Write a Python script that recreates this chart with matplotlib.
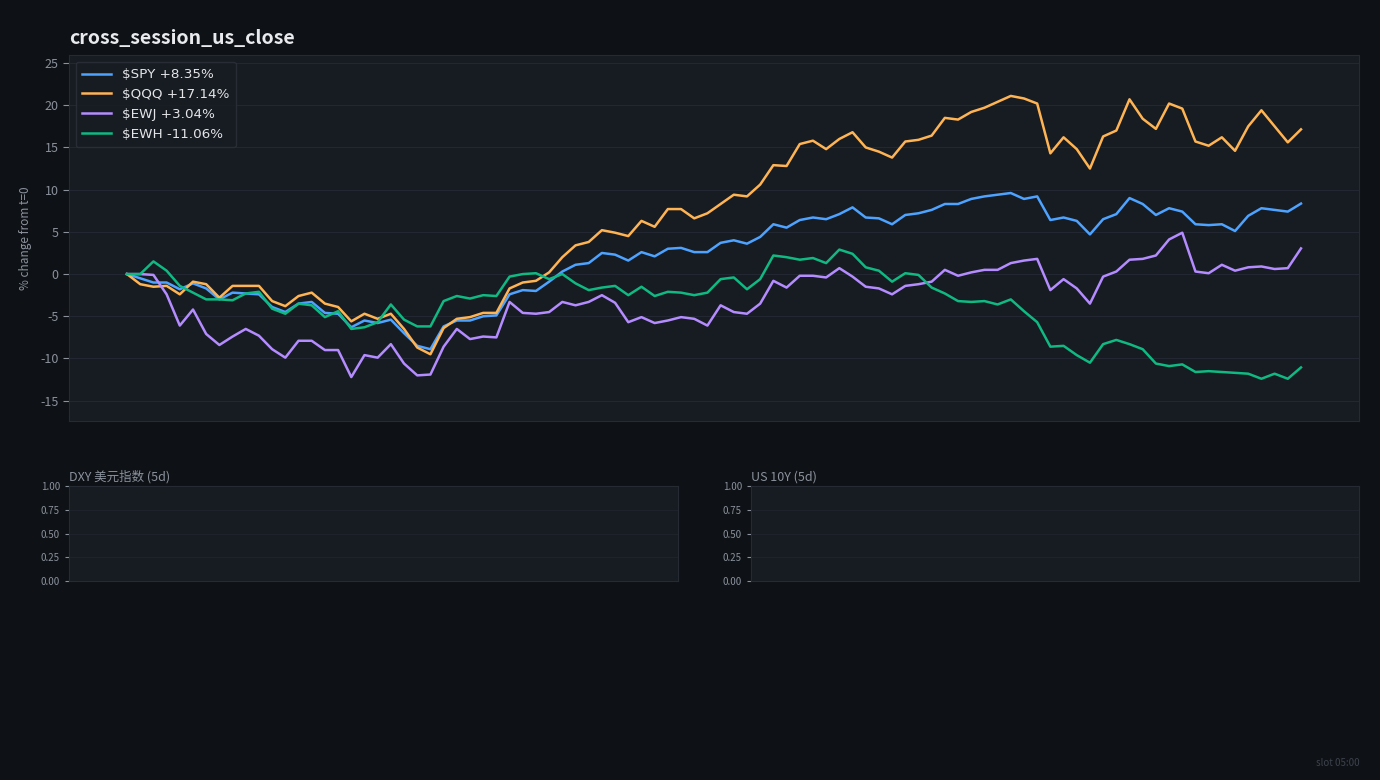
import numpy as np
import matplotlib.pyplot as plt

# % change from t=0 (90 samples)
spy = [0, -0.5, -1.0, -1.0, -1.8, -1.1, -1.7, -3.0, -2.2, -2.3,
       -2.4, -3.9, -4.5, -3.5, -3.3, -4.6, -4.7, -6.3, -5.5, -5.8,
       -5.4, -7.0, -8.5, -8.9, -6.2, -5.5, -5.5, -5.0, -4.9, -2.4,
       -1.9, -2.0, -0.9, 0.3, 1.1, 1.3, 2.5, 2.3, 1.6, 2.6,
       2.1, 3.0, 3.1, 2.6, 2.6, 3.7, 4.0, 3.6, 4.4, 5.9,
       5.5, 6.4, 6.7, 6.5, 7.1, 7.9, 6.7, 6.6, 5.9, 7.0,
       7.2, 7.6, 8.3, 8.3, 8.9, 9.2, 9.4, 9.6, 8.9, 9.2,
       6.4, 6.7, 6.3, 4.7, 6.5, 7.1, 9.0, 8.3, 7.0, 7.8,
       7.4, 5.9, 5.8, 5.9, 5.1, 6.9, 7.8, 7.6, 7.4, 8.35]
qqq = [0, -1.2, -1.5, -1.4, -2.4, -0.9, -1.2, -2.8, -1.4, -1.4,
       -1.4, -3.2, -3.8, -2.6, -2.2, -3.5, -3.9, -5.6, -4.7, -5.3,
       -4.7, -6.5, -8.7, -9.5, -6.4, -5.3, -5.1, -4.6, -4.6, -1.7,
       -1.0, -0.8, 0.2, 2.0, 3.4, 3.8, 5.2, 4.9, 4.5, 6.3,
       5.6, 7.7, 7.7, 6.6, 7.2, 8.3, 9.4, 9.2, 10.6, 12.9,
       12.8, 15.4, 15.8, 14.8, 16.0, 16.8, 15.0, 14.5, 13.8, 15.7,
       15.9, 16.4, 18.5, 18.3, 19.2, 19.7, 20.4, 21.1, 20.8, 20.2,
       14.3, 16.2, 14.8, 12.5, 16.3, 17.0, 20.7, 18.4, 17.2, 20.2,
       19.6, 15.7, 15.2, 16.2, 14.6, 17.5, 19.4, 17.5, 15.6, 17.14]
ewj = [0, 0, -0.1, -2.4, -6.1, -4.2, -7.1, -8.4, -7.4, -6.5,
       -7.3, -8.9, -9.9, -7.9, -7.9, -9.0, -9.0, -12.2, -9.6, -9.9,
       -8.3, -10.6, -12.0, -11.9, -8.6, -6.5, -7.7, -7.4, -7.5, -3.3,
       -4.6, -4.7, -4.5, -3.3, -3.7, -3.3, -2.5, -3.4, -5.7, -5.1,
       -5.8, -5.5, -5.1, -5.3, -6.1, -3.7, -4.5, -4.7, -3.5, -0.8,
       -1.6, -0.2, -0.2, -0.4, 0.7, -0.3, -1.5, -1.7, -2.4, -1.4,
       -1.2, -0.9, 0.5, -0.2, 0.2, 0.5, 0.5, 1.3, 1.6, 1.8,
       -1.9, -0.6, -1.7, -3.5, -0.3, 0.3, 1.7, 1.8, 2.2, 4.1,
       4.9, 0.3, 0.1, 1.1, 0.4, 0.8, 0.9, 0.6, 0.7, 3.04]
ewh = [0, 0, 1.5, 0.4, -1.4, -2.2, -3.0, -3.0, -3.1, -2.3,
       -2.1, -4.1, -4.7, -3.5, -3.7, -5.1, -4.4, -6.5, -6.3, -5.7,
       -3.6, -5.4, -6.2, -6.2, -3.2, -2.6, -2.9, -2.5, -2.6, -0.3,
       0.0, 0.1, -0.6, 0.0, -1.1, -1.9, -1.6, -1.4, -2.5, -1.5,
       -2.6, -2.1, -2.2, -2.5, -2.2, -0.6, -0.4, -1.8, -0.6, 2.2,
       2.0, 1.7, 1.9, 1.3, 2.9, 2.4, 0.8, 0.4, -0.9, 0.1,
       -0.1, -1.6, -2.3, -3.2, -3.3, -3.2, -3.6, -3.0, -4.4, -5.7,
       -8.6, -8.5, -9.6, -10.5, -8.3, -7.8, -8.3, -8.9, -10.6, -10.9,
       -10.7, -11.6, -11.5, -11.6, -11.7, -11.8, -12.4, -11.8, -12.4, -11.06]

labels = ['$SPY +8.35%', '$QQQ +17.14%', '$EWJ +3.04%', '$EWH -11.06%']
colors = ['#4da3ff', '#ffb454', '#b48cff', '#10b981']
yticks_main = [-15, -10, -5, 0, 5, 10, 15, 20, 25]
yticks_small = [0.0, 0.25, 0.5, 0.75, 1.0]
small_titles = ['DXY 美元指数 (5d)', 'US 10Y (5d)']

bg = '#0e1116'
axbg = '#171b22'
grid = '#222731'
tick = '#8b929c'
fonts = ['Noto Sans CJK SC', 'DejaVu Sans']

plt.rcParams['font.family'] = fonts
plt.rcParams['axes.unicode_minus'] = False

fig = plt.figure(figsize=(13.8, 7.8), dpi=100, facecolor=bg)

ax = fig.add_axes([0.05, 0.4603, 0.9348, 0.4692])
ax.set_facecolor(axbg)
t = np.arange(len(spy))
for s, lab, c in zip([spy, qqq, ewj, ewh], labels, colors):
    ax.plot(t, s, color=c, lw=1.8, label=lab.replace('$', r'\$'))
ax.set_xlim(-4.4, 93.4)
ax.set_ylim(-17.4, 25.95)
ax.set_yticks(yticks_main)
ax.set_xticks([])
ax.grid(axis='y', color=grid, lw=0.8)
ax.set_axisbelow(True)
ax.tick_params(axis='y', colors=tick, labelsize=9, length=4, width=0.8)
for sp in ax.spines.values():
    sp.set_color('#262b33')
    sp.set_linewidth(0.8)
ax.set_ylabel('% change from t=0', color=tick, fontsize=8.5, labelpad=6)
ax.set_title('cross_session_us_close', loc='left', color='#e8eaed',
             fontsize=14, fontweight='bold', pad=8, x=0.0)
leg = ax.legend(loc='upper left', frameon=True, facecolor=axbg,
                edgecolor='#2c313a', prop={'family': 'DejaVu Sans', 'size': 9.7},
                handlelength=2.1, borderpad=0.5, labelspacing=0.5,
                bbox_to_anchor=(0.0, 1.0))
for txt in leg.get_texts():
    txt.set_color('#e3e5e8')

for i, ttl in enumerate(small_titles):
    left = 0.05 if i == 0 else 0.5442
    a = fig.add_axes([left, 0.2551, 0.4413 if i == 0 else 0.4406, 0.1218])
    a.set_facecolor(axbg)
    a.set_ylim(0, 1)
    a.set_yticks(yticks_small)
    a.set_xticks([])
    a.grid(axis='y', color='#1e222a', lw=0.8)
    a.tick_params(axis='y', colors=tick, labelsize=7, length=3, width=0.8)
    for sp in a.spines.values():
        sp.set_color('#262b33')
        sp.set_linewidth(0.8)
    a.set_title(ttl, loc='left', color=tick, fontsize=9, pad=4)

fig.text(0.985, 0.018, 'slot 05:00', color='#3d434c', fontsize=7, ha='right')

fig.savefig('out.png', dpi=100, facecolor=bg)
